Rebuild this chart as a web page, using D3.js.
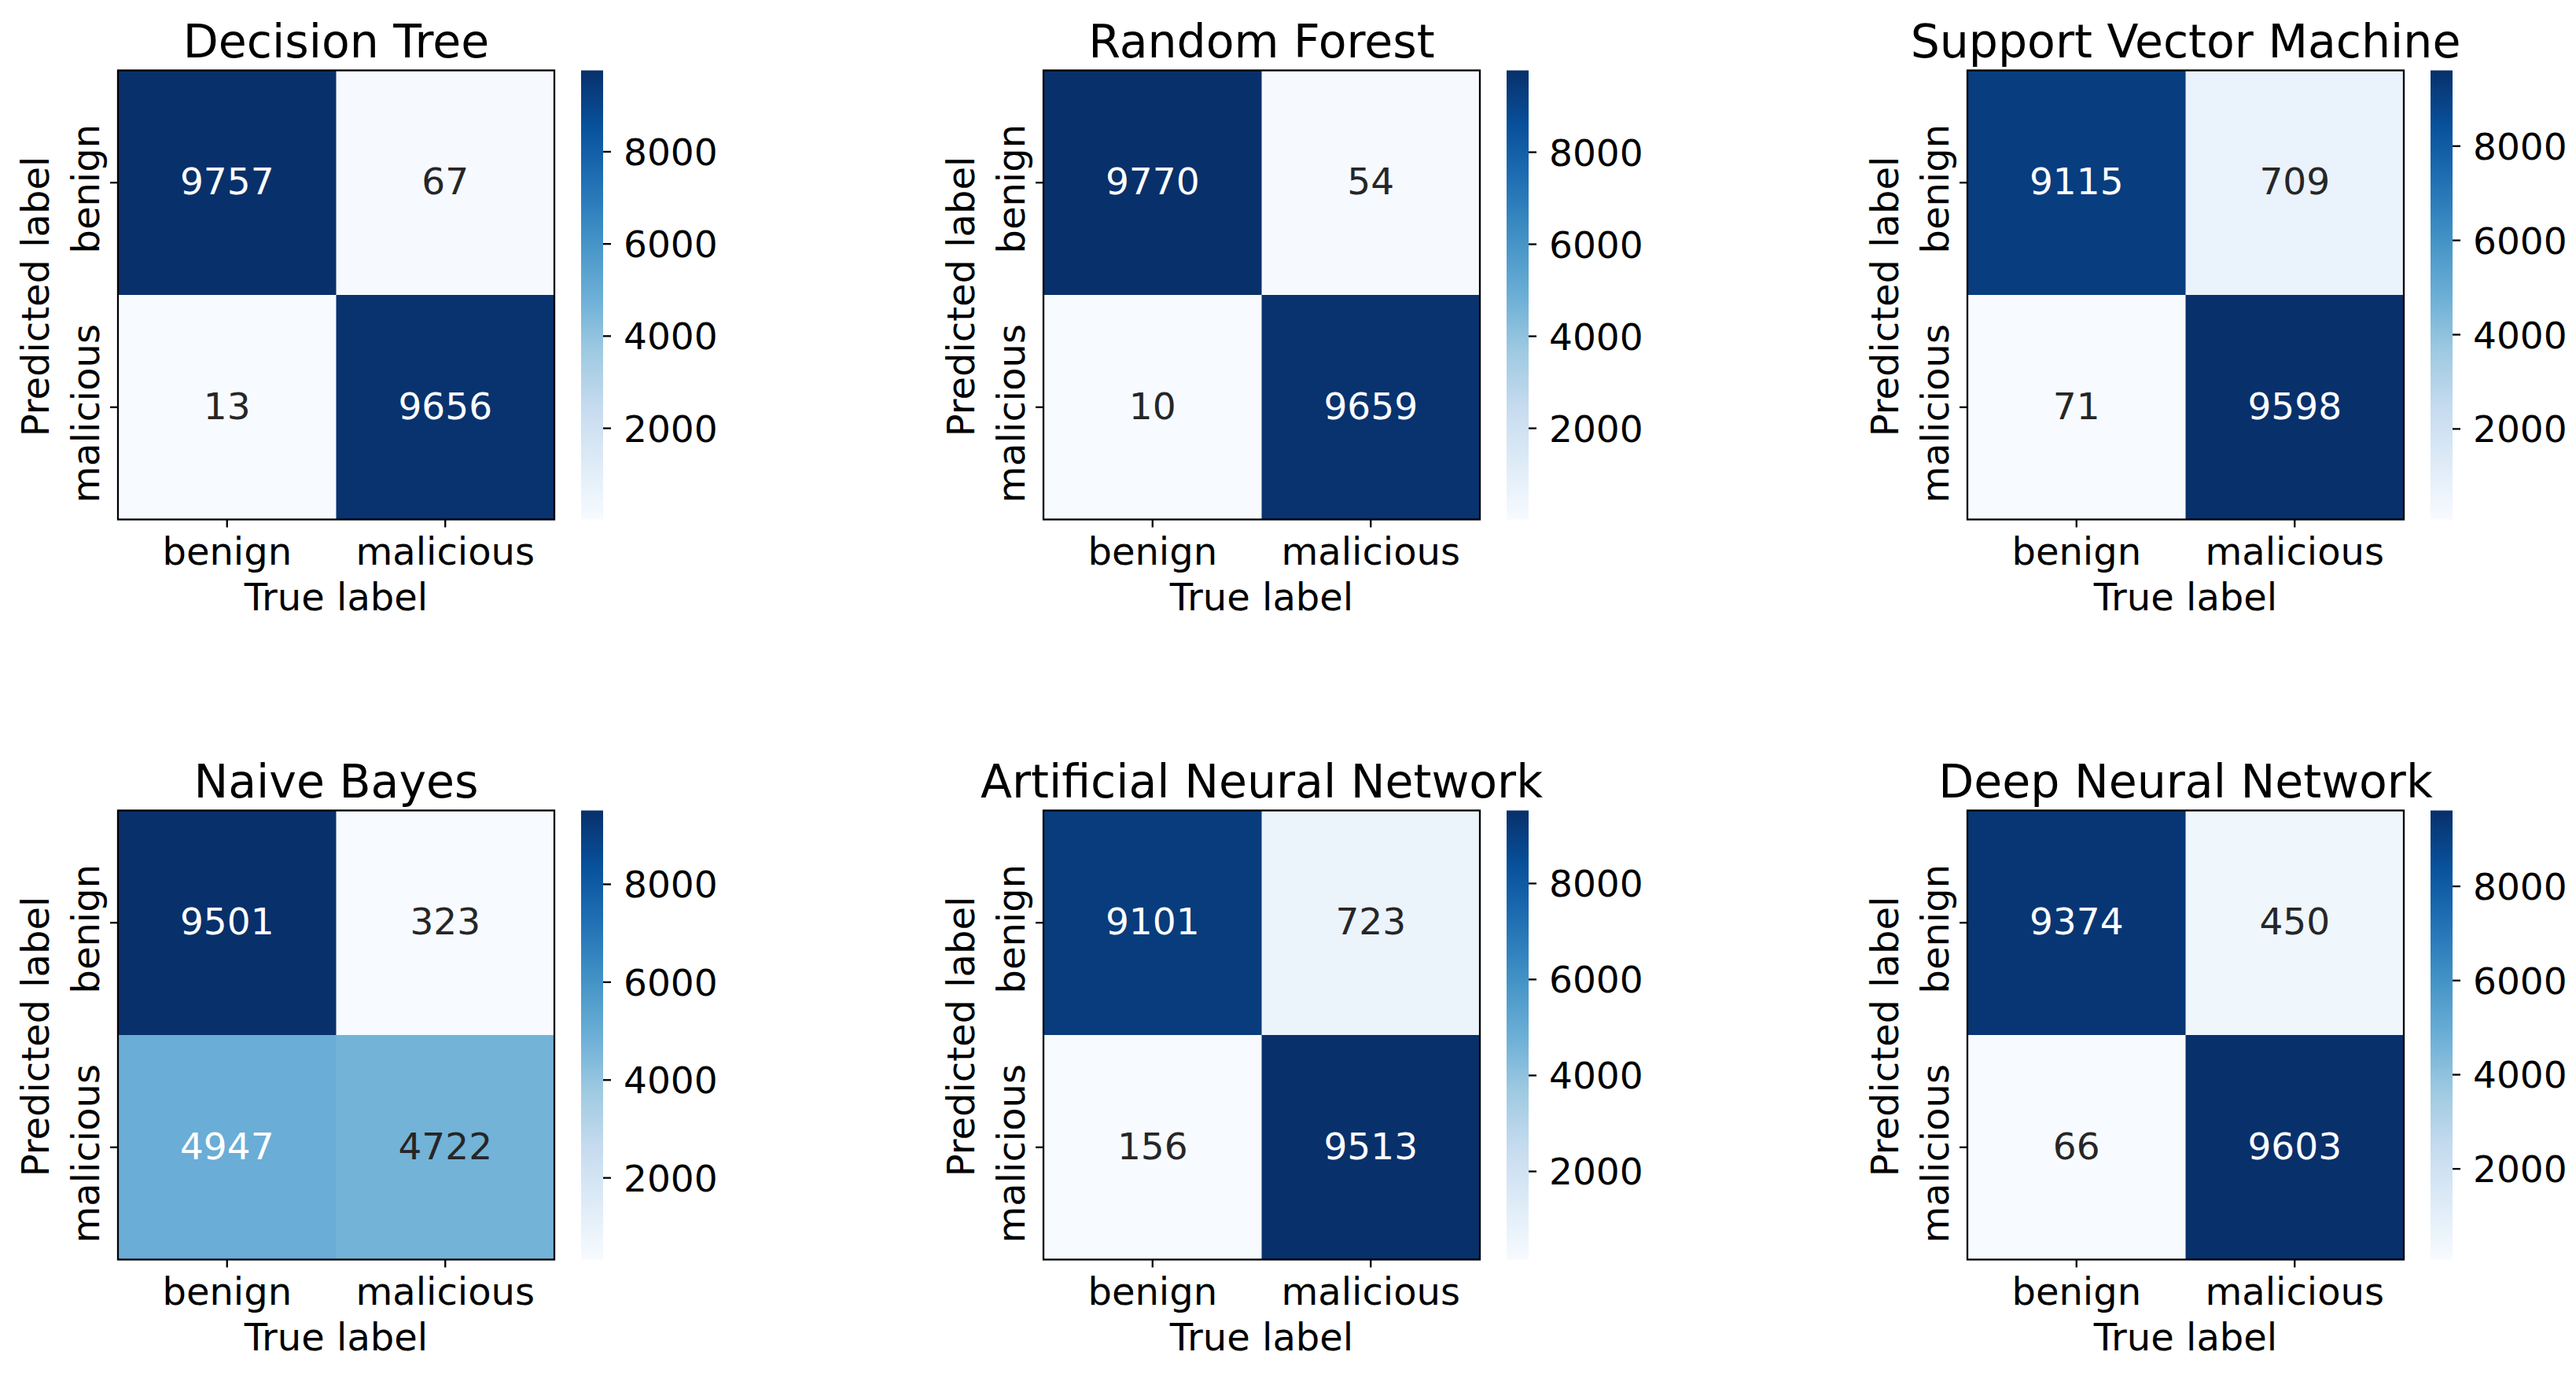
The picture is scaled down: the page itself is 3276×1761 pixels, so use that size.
<!DOCTYPE html>
<html>
<head>
<meta charset="utf-8">
<script src="https://cdn.jsdelivr.net/npm/d3@7"></script>
<style>
  html, body { margin: 0; padding: 0; background: #ffffff; }
  svg { display: block; font-family: "DejaVu Sans", sans-serif; }
</style>
</head>
<body>
<svg id="chart" width="3276" height="1761"></svg>
<script>
// ---- data ----
const models = ["Decision Tree", "Random Forest", "Support Vector Machine",
                "Naive Bayes", "Artificial Neural Network", "Deep Neural Network"];
const labels = ["benign", "malicious"];
const decisionTree   = [[9757, 67], [13, 9656]];
const randomForest   = [[9770, 54], [10, 9659]];
const svm            = [[9115, 709], [71, 9598]];
const naiveBayes     = [[9501, 323], [4947, 4722]];
const ann            = [[9101, 723], [156, 9513]];
const dnn            = [[9374, 450], [66, 9603]];
const matrices = [decisionTree, randomForest, svm, naiveBayes, ann, dnn];
const colorbarTicks = [2000, 4000, 6000, 8000];
const bluesStops = ["#f7fbff","#deebf7","#c6dbef","#9ecae1","#6baed6","#4292c6","#2171b5","#08519c","#08306b"];

// ---- layout ----
const colLeft = [150, 1327, 2502];
const rowTop = [89.5, 1030.5];
const W = 555, H = 571;
const cbGap = 34, cbW = 28;
const FS = 48, NFS = 47, TFS = 58.5;

const blues = d3.scaleLinear()
  .domain(d3.range(bluesStops.length).map(i => i / (bluesStops.length - 1)))
  .range(bluesStops)
  .interpolate(d3.interpolateRgb);

const svg = d3.select("#chart");
const defs = svg.append("defs");
const grad = defs.append("linearGradient").attr("id", "bluesGrad")
  .attr("x1", 0).attr("y1", 1).attr("x2", 0).attr("y2", 0);
d3.range(0, 1.0001, 0.02).forEach(t => {
  grad.append("stop").attr("offset", t).attr("stop-color", blues(t));
});

matrices.forEach((m, k) => {
  const left = colLeft[k % 3], top = rowTop[Math.floor(k / 3)];
  const g = svg.append("g").attr("transform", `translate(${left},${top})`);
  const flat = m.flat();
  const vmin = d3.min(flat), vmax = d3.max(flat);
  const thresh = (vmin + vmax) / 2;
  const norm = d3.scaleLinear().domain([vmin, vmax]).range([0, 1]);

  const x = d3.scaleBand().domain(labels).range([0, W]).padding(0);
  const y = d3.scaleBand().domain(labels).range([0, H]).padding(0);

  const cells = [];
  m.forEach((row, i) => row.forEach((v, j) => cells.push({ r: labels[i], c: labels[j], v })));

  g.selectAll("rect.cell").data(cells).enter().append("rect")
    .attr("class", "cell")
    .attr("x", d => x(d.c)).attr("y", d => y(d.r))
    .attr("width", x.bandwidth() + 0.5).attr("height", y.bandwidth() + 0.5)
    .attr("fill", d => blues(norm(d.v)));

  g.selectAll("text.annot").data(cells).enter().append("text")
    .attr("class", "annot")
    .attr("x", d => x(d.c) + x.bandwidth() / 2)
    .attr("y", d => y(d.r) + y.bandwidth() / 2 + 15)
    .attr("text-anchor", "middle")
    .attr("font-size", NFS)
    .attr("fill", d => d.v > thresh ? "#ffffff" : "#262626")
    .text(d => d.v);

  // frame
  g.append("rect").attr("x", 0).attr("y", 0).attr("width", W).attr("height", H)
    .attr("fill", "none").attr("stroke", "#000").attr("stroke-width", 2.3);

  // x axis
  const xa = g.append("g").attr("transform", `translate(0,${H})`)
    .call(d3.axisBottom(x).tickSize(10).tickSizeOuter(0));
  xa.select(".domain").remove();
  xa.selectAll(".tick line").attr("stroke", "#000").attr("stroke-width", 2.3);
  xa.selectAll(".tick text").attr("dy", null).attr("y", 57)
    .attr("font-size", FS).attr("fill", "#000").attr("font-family", "DejaVu Sans");

  // y axis
  const ya = g.append("g").call(d3.axisLeft(y).tickSize(10).tickSizeOuter(0));
  ya.select(".domain").remove();
  ya.selectAll(".tick line").attr("stroke", "#000").attr("stroke-width", 2.3);
  ya.selectAll(".tick text").attr("dy", null).attr("x", 0).attr("y", 0)
    .attr("text-anchor", "middle")
    .attr("transform", "translate(-24,8) rotate(-90)")
    .attr("font-size", FS).attr("fill", "#000").attr("font-family", "DejaVu Sans");

  // axis titles
  g.append("text").attr("x", W / 2).attr("y", H + 115).attr("text-anchor", "middle")
    .attr("font-size", FS).text("True label");
  g.append("text").attr("transform", `translate(-88,${H / 2 + 2}) rotate(-90)`)
    .attr("text-anchor", "middle").attr("font-size", FS).text("Predicted label");

  // title
  g.append("text").attr("x", W / 2).attr("y", -16.5).attr("text-anchor", "middle")
    .attr("font-size", TFS).text(models[k]);

  // colorbar
  const cb = g.append("g").attr("transform", `translate(${W + cbGap},0)`);
  cb.append("rect").attr("width", cbW).attr("height", H).attr("fill", "url(#bluesGrad)");
  const cbScale = d3.scaleLinear().domain([vmin, vmax]).range([H, 0]);
  const ca = cb.append("g").attr("transform", `translate(${cbW},0)`)
    .call(d3.axisRight(cbScale).tickValues(colorbarTicks).tickFormat(d3.format("d")).tickSize(10).tickPadding(16));
  ca.select(".domain").remove();
  ca.selectAll(".tick line").attr("stroke", "#000").attr("stroke-width", 2.3);
  ca.selectAll(".tick text").attr("dy", null).attr("y", 17)
    .attr("font-size", NFS).attr("fill", "#000").attr("font-family", "DejaVu Sans");
});
</script>
</body>
</html>
